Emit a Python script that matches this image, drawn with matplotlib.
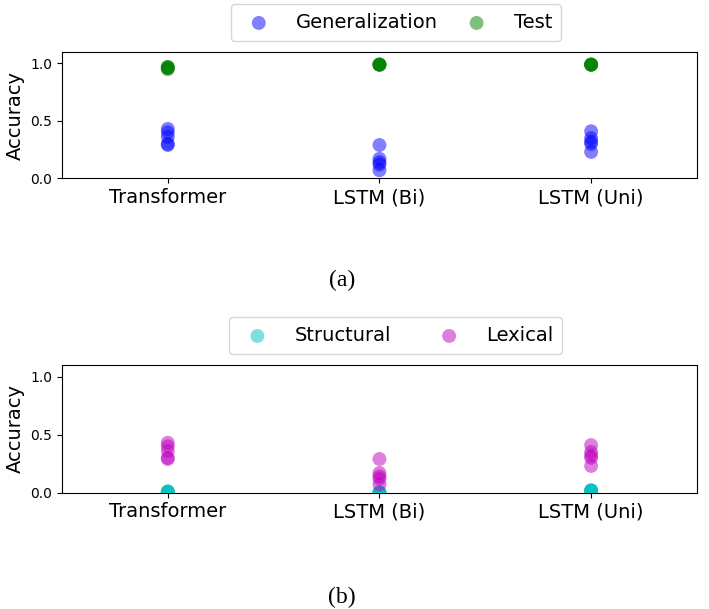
import matplotlib
matplotlib.use("Agg")
import matplotlib.pyplot as plt
import numpy as np

models = ["Transformer", "LSTM (Bi)", "LSTM (Uni)"]
yticks = [0.0, 0.5, 1.0]

gen_transformer = [0.43, 0.40, 0.36, 0.30, 0.29]
gen_bi = [0.29, 0.17, 0.14, 0.12, 0.07]
gen_uni = [0.41, 0.35, 0.32, 0.30, 0.23]

test_transformer = [0.95, 0.96, 0.97, 0.97, 0.96]
test_bi = [0.99, 0.99, 0.99, 0.99, 0.99]
test_uni = [0.99, 0.99, 0.99, 0.99, 0.99]

struct_transformer = [0.01, 0.005, 0.01, 0.0, 0.01]
struct_bi = [0.0, 0.0, 0.005, 0.0, 0.0]
struct_uni = [0.02, 0.015, 0.02, 0.01, 0.02]

lex_transformer = [0.43, 0.40, 0.36, 0.30, 0.29]
lex_bi = [0.29, 0.17, 0.14, 0.12, 0.07]
lex_uni = [0.41, 0.35, 0.32, 0.30, 0.23]

FS = 14

fig = plt.figure(figsize=(7.09, 6.09), dpi=100)
ax1 = fig.add_axes([0.0874, 0.7072, 0.8956, 0.2074])
ax2 = fig.add_axes([0.0874, 0.1910, 0.8956, 0.2097])


def draw(ax, series, labels, colors, legend_y, colspace):
    handles = []
    for vals_list, lab, col in zip(series, labels, colors):
        xs = []
        ys = []
        for i, vals in enumerate(vals_list):
            xs += [i] * len(vals)
            ys += list(vals)
        h = ax.scatter(xs, ys, s=100, color=col, alpha=0.5, edgecolors="none",
                       label=lab, zorder=3)
        handles.append(h)
    ax.set_xlim(-0.5, 2.5)
    ax.set_ylim(0, 1.1)
    ax.set_xticks(range(len(models)))
    ax.set_xticklabels(models, fontsize=FS)
    ax.set_yticks(yticks)
    ax.set_yticklabels([f"{t:.1f}" for t in yticks], fontsize=10)
    ax.set_ylabel("Accuracy", fontsize=FS)
    for sp in ax.spines.values():
        sp.set_color("black")
    fig.legend(handles=handles, labels=labels, loc="center",
               bbox_to_anchor=(0.558, legend_y), ncol=2, fontsize=FS,
               scatterpoints=1, handletextpad=0.9, columnspacing=colspace,
               borderpad=0.45, frameon=True)


draw(ax1, [[gen_transformer, gen_bi, gen_uni], [test_transformer, test_bi, test_uni]],
     ["Generalization", "Test"], ["blue", "green"], 0.963, 1.0)
draw(ax2, [[struct_transformer, struct_bi, struct_uni], [lex_transformer, lex_bi, lex_uni]],
     ["Structural", "Lexical"], ["c", "m"], 0.449, 2.0)

fig.text(0.482, 1 - 280 / 609, "(a)", ha="center", va="center",
         fontsize=17, family="Liberation Serif")
fig.text(0.482, 1 - 597 / 609, "(b)", ha="center", va="center",
         fontsize=17, family="Liberation Serif")

fig.savefig("out.png", dpi=100)
